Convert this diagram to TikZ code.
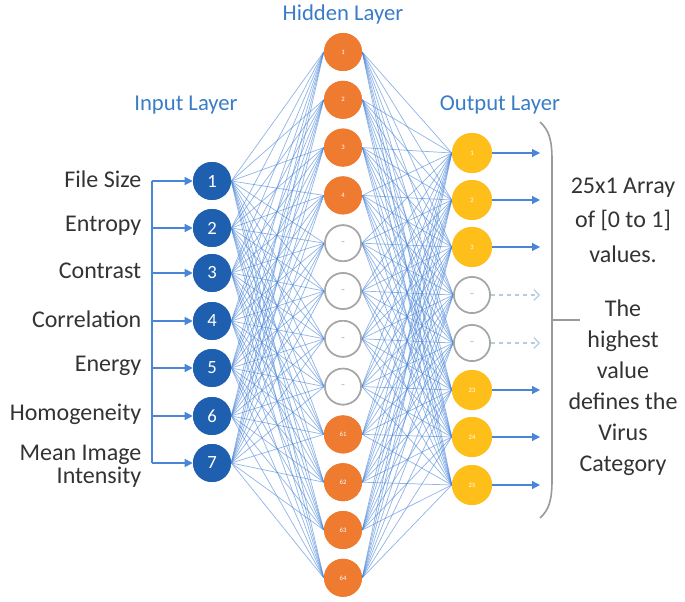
\documentclass[tikz,border=0pt]{standalone}
\usepackage{fontspec}
\setmainfont{Carlito}
\usetikzlibrary{arrows.meta}
\definecolor{inblue}{HTML}{1F5FAF}
\definecolor{hor}{HTML}{EE7B30}
\definecolor{oy}{HTML}{FFBF1A}
\definecolor{ttl}{HTML}{3A7CC8}
\definecolor{lnk}{HTML}{4A86D8}
\tikzset{
 inn/.style={circle,fill=inblue,minimum size=38*0.75pt,inner sep=0pt,text=white,font=\fontsize{14}{14}\selectfont},
 hid/.style={circle,fill=hor,minimum size=38*0.75pt,inner sep=0pt,text=white,font=\fontsize{5}{5}\selectfont},
 outn/.style={circle,fill=oy,minimum size=40*0.75pt,inner sep=0pt,text=white,font=\fontsize{5}{5}\selectfont},
 blank/.style={circle,draw=gray!70,line width=1.2pt,fill=white,minimum size=36*0.75pt,inner sep=0pt,text=gray,font=\fontsize{6}{6}\selectfont},
 lab/.style={anchor=east,font=\fontsize{18}{17}\selectfont,text=black!80},
 rtxt/.style={align=center,text=black!80},
 ttlf/.style={text=ttl,font=\fontsize{17}{17}\selectfont},
 link/.style={draw=lnk,opacity=0.6,line width=0.55pt},
 arr/.style={draw=lnk,line width=0.9pt,-{Triangle[length=6pt,width=6pt]}},
 darr/.style={draw=cyan!40!gray!50,line width=0.9pt,dashed,-{Straight Barb[length=4pt]}}
}
\begin{document}
\begin{tikzpicture}[x=0.75pt,y=-0.75pt]
\useasboundingbox (0,0) rectangle (685,602);
% input
\foreach \i/\y/\t in {1/181,2/228,3/273,4/321,5/368,6/416,7/463}{
  \node[inn] (i\i) at (212,\y) {\i};
}
\foreach \i/\y/\t in {1/181/File Size,2/228/Entropy,3/273/Contrast,4/321/Correlation,5/368/Energy,6/416/Homogeneity}{
  \node[lab] (l\i) at (146,\y-2) {\t};
}
\node[lab,align=right] (l7) at (146,466) {Mean Image\\Intensity};
% hidden
\foreach \j/\t in {1/1,2/2,3/3,4/4,9/61,10/62,11/63,12/64}{
  \node[hid] (h\j) at (343,{52+(\j-1)*47.8}) {\t};
}
\foreach \j in {5,6,7,8}{
  \node[blank] (h\j) at (343,{52+(\j-1)*47.8}) {--};
}
% output
\foreach \k/\y/\t in {1/153/1,2/200/2,3/247/3,6/390/23,7/437/24,8/485/25}{
  \node[outn] (o\k) at (472,\y) {\t};
}
\node[blank] (o4) at (472,295) {--};
\node[blank] (o5) at (472,343) {--};
% links
\foreach \i in {1,...,7}{\foreach \j in {1,...,12}{\draw[link] (i\i.east) -- (h\j.west);}}
\foreach \j in {1,...,12}{\foreach \k in {1,...,8}{\draw[link] (h\j.east) -- (o\k.west);}}
% redraw nodes on top
\foreach \i/\y in {1/181,2/228,3/273,4/321,5/368,6/416,7/463}{\node[inn] at (212,\y) {\i};}
\foreach \j/\t in {1/1,2/2,3/3,4/4,9/61,10/62,11/63,12/64}{\node[hid] at (343,{52+(\j-1)*47.8}) {\t};}
\foreach \j in {5,6,7,8}{\node[blank] at (343,{52+(\j-1)*47.8}) {--};}
\foreach \k/\y/\t in {1/153/1,2/200/2,3/247/3,6/390/23,7/437/24,8/485/25}{\node[outn] at (472,\y) {\t};}
\node[blank] at (472,295) {--};
\node[blank] at (472,343) {--};
% input bus
\coordinate (bt) at (152,181);
\coordinate (bb) at (152,463);
\draw[lnk,line width=0.9pt] (bt) -- (bb);
\foreach \i/\y in {1/181,2/228,3/273,4/321,5/368,6/416,7/463}{
  \coordinate (b\i) at (152,\y);
  \draw[arr] (b\i) -- (i\i.west);
}
% output arrows
\foreach \k/\y in {1/153,2/200,3/247,6/390,7/437,8/485}{
  \coordinate (e\k) at (540,\y);
  \draw[arr] (o\k.east) -- (e\k);
}
\foreach \k/\y in {4/295,5/343}{
  \coordinate (e\k) at (540,\y);
  \draw[darr] (o\k.east) -- (e\k);
}
% bracket
\coordinate (kt) at (540,122);
\coordinate (kb) at (540,518);
\coordinate (km) at (552,320);
\coordinate (kx) at (580,320);
\draw[gray!80,line width=1.2pt] (kt) .. controls (549,130) and (552,140) .. (552,160) -- (552,480) .. controls (552,500) and (549,510) .. (kb);
\draw[gray!80,line width=1.2pt] (km) -- (kx);
% titles
\node[ttlf] (th) at (343,14) {Hidden Layer};
\node[ttlf] (ti) at (186,105) {Input Layer};
\node[ttlf] (to) at (500,105) {Output Layer};
% right text
\node[rtxt,font=\fontsize{18}{26}\selectfont] (r1) at (623,220) {25x1 Array\\of [0 to 1]\\values.};
\node[rtxt,font=\fontsize{18}{23.3}\selectfont] (r2) at (623,388) {The\\highest\\value\\defines the\\Virus\\Category};
\end{tikzpicture}
\end{document}
